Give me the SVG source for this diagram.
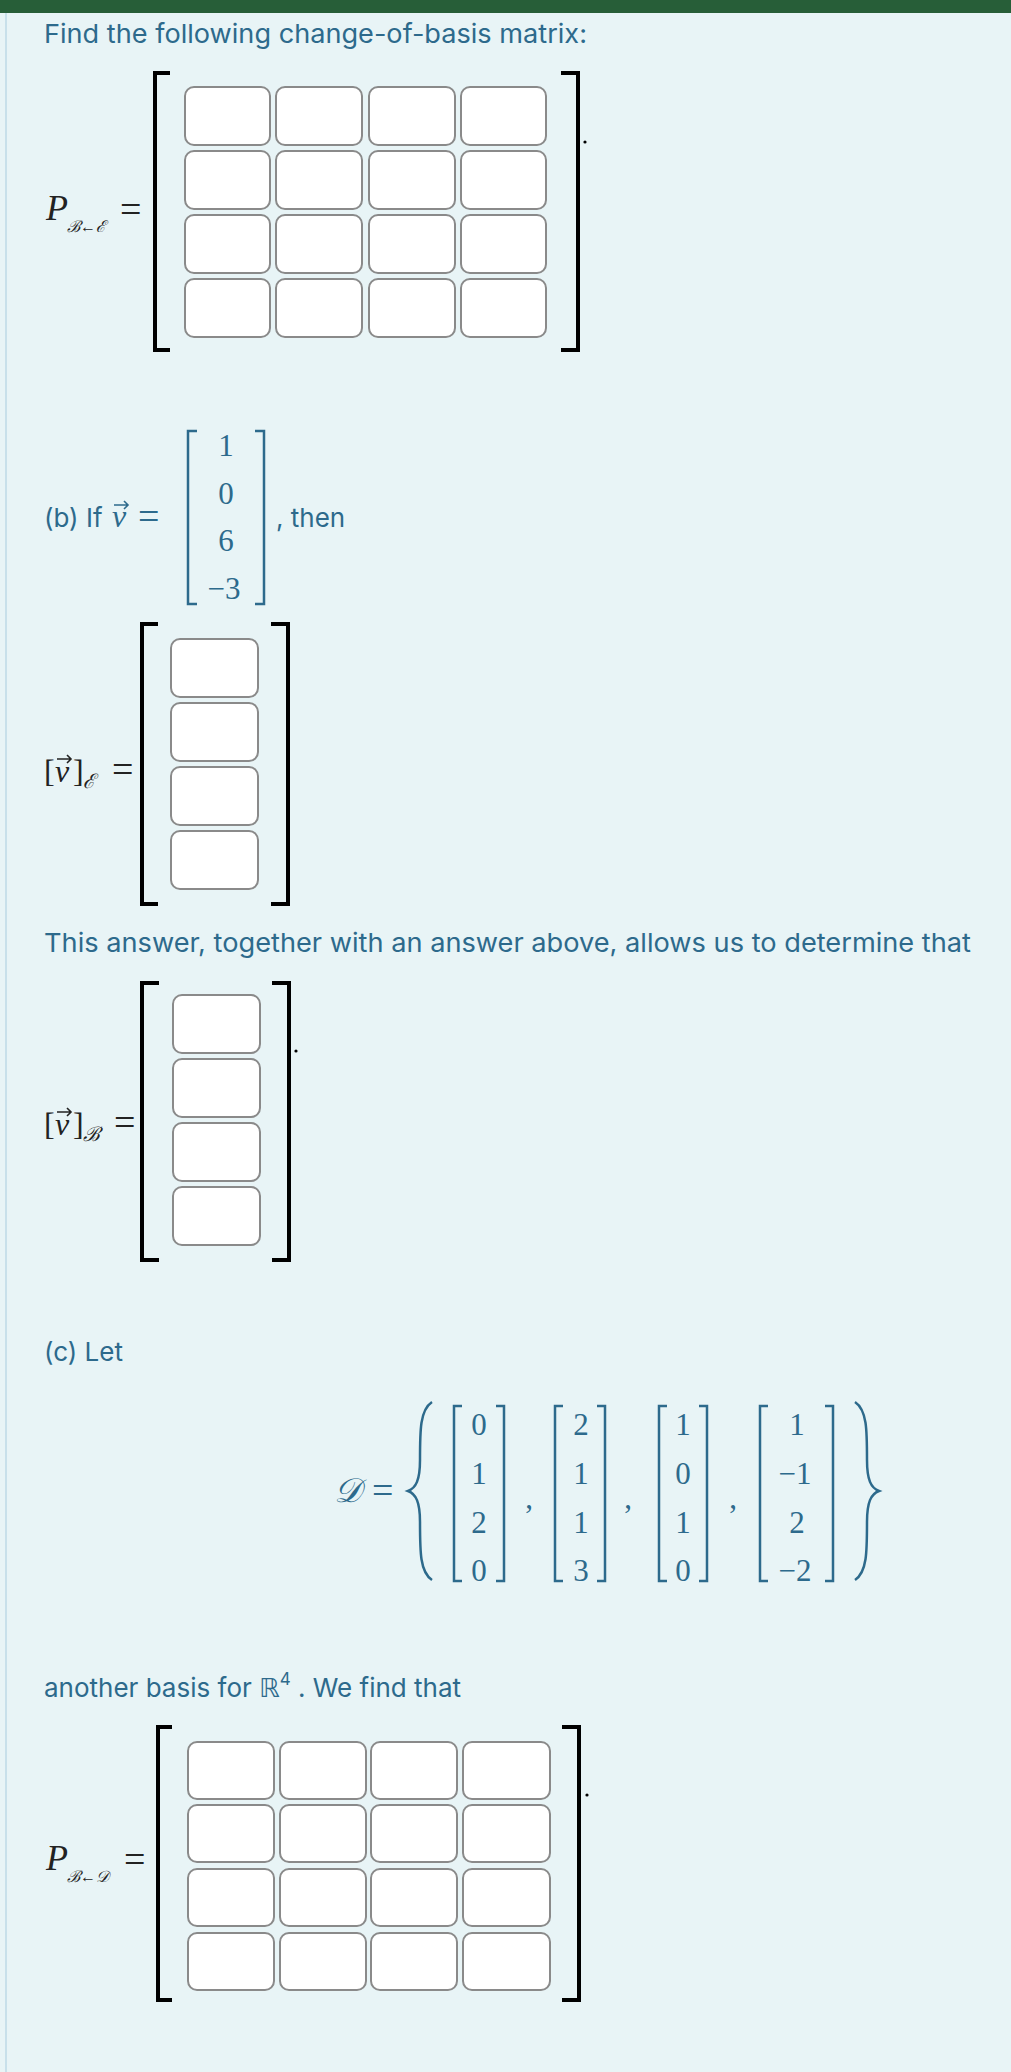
<svg xmlns="http://www.w3.org/2000/svg" width="1011" height="2072" viewBox="0 0 1011 2072">
<defs>
<style>
.t{font-family:"Inter","Liberation Sans",sans-serif;font-size:26px;fill:#2d6a8c}
.m{font-family:"Liberation Serif","DejaVu Serif",serif;fill:#2d6a8c}
.k{font-family:"Liberation Serif","DejaVu Serif",serif;fill:#222}
.c{fill:#fff;stroke:#8a8a8a;stroke-width:2}
.b{fill:none;stroke:#000;stroke-width:4}
.vb{fill:none;stroke:#2d6a8c;stroke-width:2.5}
.ar{fill:none;stroke-width:1.6}
</style>
</defs>
<rect width="1011" height="2072" fill="#e8f4f6"/>
<rect x="0" y="0" width="1011" height="13" fill="#275e38"/>
<rect x="5" y="13" width="2" height="2059" fill="#c8e0ea"/>

<g id="title"><text class="t" x="44" y="43" textLength="543" lengthAdjust="spacingAndGlyphs">Find the following change-of-basis matrix:</text></g>

<g id="matrixPBE">
<text class="k" x="46" y="220" font-size="36" font-style="italic">P</text>
<text class="k" x="67" y="232" font-size="16" font-style="italic">ℬ←ℰ</text>
<text class="k" x="120" y="222" font-size="38">=</text>
<path class="b" d="M170,73 H155 V350 H170 M561,73 H578 V350 H561"/>
<g>
<rect class="c" x="185" y="87" width="85" height="58" rx="9"/><rect class="c" x="276" y="87" width="86" height="58" rx="9"/><rect class="c" x="369" y="87" width="86" height="58" rx="9"/><rect class="c" x="461" y="87" width="85" height="58" rx="9"/>
<rect class="c" x="185" y="151" width="85" height="58" rx="9"/><rect class="c" x="276" y="151" width="86" height="58" rx="9"/><rect class="c" x="369" y="151" width="86" height="58" rx="9"/><rect class="c" x="461" y="151" width="85" height="58" rx="9"/>
<rect class="c" x="185" y="215" width="85" height="58" rx="9"/><rect class="c" x="276" y="215" width="86" height="58" rx="9"/><rect class="c" x="369" y="215" width="86" height="58" rx="9"/><rect class="c" x="461" y="215" width="85" height="58" rx="9"/>
<rect class="c" x="185" y="279" width="85" height="58" rx="9"/><rect class="c" x="276" y="279" width="86" height="58" rx="9"/><rect class="c" x="369" y="279" width="86" height="58" rx="9"/><rect class="c" x="461" y="279" width="85" height="58" rx="9"/>
</g>
<circle cx="585" cy="142" r="1.6" fill="#000"/>
</g>

<g id="partB">
<text class="t" x="44" y="527">(b) If</text>
<text class="m" x="112" y="527" font-size="32" font-style="italic">v</text>
<path class="ar" stroke="#2d6a8c" d="M114,505 H128 M124,501 L128,505 L124,509"/>
<text class="m" x="138" y="529" font-size="38">=</text>
<path class="vb" d="M197,431 H188 V604 H197 M255,431 H264 V604 H255"/>
<g class="m" font-size="31" text-anchor="middle">
<text x="226" y="456">1</text><text x="226" y="504">0</text><text x="226" y="551">6</text><text x="224" y="599">−3</text>
</g>
<text class="t" x="276" y="527">, then</text>
</g>

<g id="vecE">
<text class="k" x="44" y="782" font-size="32">[</text>
<text class="k" x="55" y="782" font-size="32" font-style="italic">v</text>
<path class="ar" stroke="#222" d="M57,759 H71 M67,755 L71,759 L67,763"/>
<text class="k" x="73" y="782" font-size="32">]</text>
<text class="k" x="83" y="788" font-size="20" font-style="italic">ℰ</text>
<text class="k" x="112" y="782" font-size="38">=</text>
<path class="b" d="M158,624 H142 V904 H158 M271,624 H288 V904 H271"/>
<rect class="c" x="171" y="639" width="87" height="58" rx="9"/>
<rect class="c" x="171" y="703" width="87" height="58" rx="9"/>
<rect class="c" x="171" y="767" width="87" height="58" rx="9"/>
<rect class="c" x="171" y="831" width="87" height="58" rx="9"/>
</g>

<g id="sentence"><text class="t" x="44" y="952" textLength="927" lengthAdjust="spacingAndGlyphs">This answer, together with an answer above, allows us to determine that</text></g>

<g id="vecB">
<text class="k" x="44" y="1135" font-size="32">[</text>
<text class="k" x="55" y="1135" font-size="32" font-style="italic">v</text>
<path class="ar" stroke="#222" d="M57,1112 H71 M67,1108 L71,1112 L67,1116"/>
<text class="k" x="73" y="1135" font-size="32">]</text>
<text class="k" x="83" y="1141" font-size="20" font-style="italic">ℬ</text>
<text class="k" x="114" y="1135" font-size="38">=</text>
<path class="b" d="M159,983 H142 V1260 H159 M272,983 H289 V1260 H272"/>
<rect class="c" x="173" y="995" width="87" height="58" rx="9"/>
<rect class="c" x="173" y="1059" width="87" height="58" rx="9"/>
<rect class="c" x="173" y="1123" width="87" height="58" rx="9"/>
<rect class="c" x="173" y="1187" width="87" height="58" rx="9"/>
<circle cx="296" cy="1051" r="1.6" fill="#000"/>
</g>

<g id="partC">
<text class="t" x="44" y="1361">(c) Let</text>
<text class="m" x="334" y="1502" font-size="34" font-style="italic">𝒟</text>
<text class="m" x="372" y="1503" font-size="38">=</text>
<path class="vb" d="M432,1402 C420,1410 420,1430 420,1460 C420,1480 416,1488 408,1491 C416,1494 420,1502 420,1522 C420,1552 420,1572 432,1580"/>
<path class="vb" d="M855,1402 C867,1410 867,1430 867,1460 C867,1480 871,1488 879,1491 C871,1494 867,1502 867,1522 C867,1552 867,1572 855,1580"/>
<path class="vb" d="M462,1406 H454 V1581 H462 M496,1406 H504 V1581 H496"/>
<path class="vb" d="M563,1406 H555 V1581 H563 M597,1406 H605 V1581 H597"/>
<path class="vb" d="M667,1406 H659 V1581 H667 M699,1406 H707 V1581 H699"/>
<path class="vb" d="M768,1406 H760 V1581 H768 M825,1406 H833 V1581 H825"/>
<g class="m" font-size="31" text-anchor="middle">
<text x="479" y="1435">0</text><text x="479" y="1484">1</text><text x="479" y="1533">2</text><text x="479" y="1581">0</text>
<text x="581" y="1435">2</text><text x="581" y="1484">1</text><text x="581" y="1533">1</text><text x="581" y="1581">3</text>
<text x="683" y="1435">1</text><text x="683" y="1484">0</text><text x="683" y="1533">1</text><text x="683" y="1581">0</text>
<text x="797" y="1435">1</text><text x="795" y="1484">−1</text><text x="797" y="1533">2</text><text x="795" y="1581">−2</text>
<text x="529" y="1508">,</text><text x="628" y="1508">,</text><text x="733" y="1508">,</text>
</g>
</g>

<g id="another">
<text class="t" x="44" y="1697">another basis for <tspan font-family="DejaVu Sans,sans-serif">ℝ</tspan><tspan font-size="17" dy="-12">4</tspan><tspan dy="12"> . We find that</tspan></text>
</g>

<g id="matrixPBD">
<text class="k" x="46" y="1870" font-size="36" font-style="italic">P</text>
<text class="k" x="67" y="1882" font-size="16" font-style="italic">ℬ←𝒟</text>
<text class="k" x="124" y="1872" font-size="38">=</text>
<path class="b" d="M172,1727 H158 V2000 H172 M562,1727 H579 V2000 H562"/>
<g>
<rect class="c" x="188" y="1742" width="86" height="57" rx="9"/><rect class="c" x="280" y="1742" width="86" height="57" rx="9"/><rect class="c" x="371" y="1742" width="86" height="57" rx="9"/><rect class="c" x="463" y="1742" width="87" height="57" rx="9"/>
<rect class="c" x="188" y="1805" width="86" height="57" rx="9"/><rect class="c" x="280" y="1805" width="86" height="57" rx="9"/><rect class="c" x="371" y="1805" width="86" height="57" rx="9"/><rect class="c" x="463" y="1805" width="87" height="57" rx="9"/>
<rect class="c" x="188" y="1869" width="86" height="57" rx="9"/><rect class="c" x="280" y="1869" width="86" height="57" rx="9"/><rect class="c" x="371" y="1869" width="86" height="57" rx="9"/><rect class="c" x="463" y="1869" width="87" height="57" rx="9"/>
<rect class="c" x="188" y="1933" width="86" height="57" rx="9"/><rect class="c" x="280" y="1933" width="86" height="57" rx="9"/><rect class="c" x="371" y="1933" width="86" height="57" rx="9"/><rect class="c" x="463" y="1933" width="87" height="57" rx="9"/>
</g>
<circle cx="587" cy="1795" r="1.6" fill="#000"/>
</g>
</svg>
